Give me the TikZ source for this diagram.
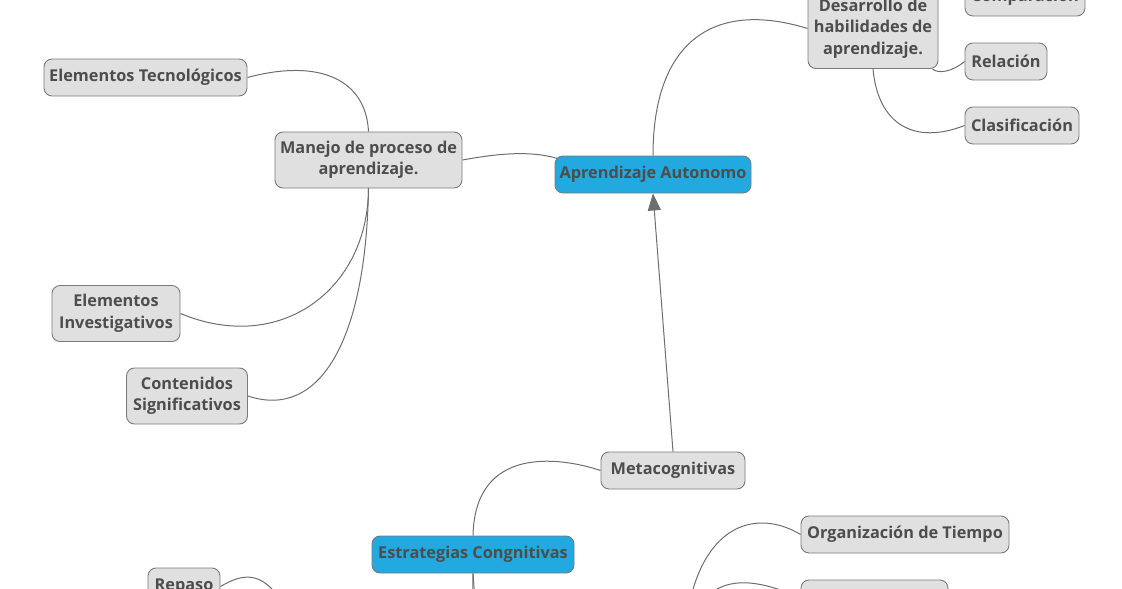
\documentclass[tikz,border=0pt]{standalone}
\usepackage{fontspec}
\setmainfont{Open Sans}
\usetikzlibrary{positioning,arrows.meta}
\definecolor{boxgray}{HTML}{E0E0E0}
\definecolor{edgegray}{HTML}{7A7A7A}
\definecolor{linegray}{HTML}{6E6E6E}
\definecolor{txtgray}{HTML}{4D4D4D}
\definecolor{mapblue}{HTML}{22A9E0}
\tikzset{idea/.style={draw=edgegray, fill=boxgray, rounded corners=8, line width=0.9pt, inner xsep=4pt, inner ysep=8pt, minimum height=37pt, align=center, text=txtgray, font=\fontsize{16.3}{21.5}\selectfont\bfseries}}
\tikzset{twoline/.style={idea, minimum height=56pt}}
\tikzset{central/.style={idea, fill=mapblue}}
\tikzset{link/.style={draw=linegray, line width=1pt}}
\tikzset{arr/.style={link, -{Triangle[width=13pt,length=17pt]}}}
\begin{document}
\begin{tikzpicture}[x=1pt, y=-1pt]
	\useasboundingbox (0,0) rectangle (1122,589);
	\clip (0,0) rectangle (1122,589);
	% central ideas
	\node[central, minimum width=196pt] (AA) at (653,174.5) {Aprendizaje Autonomo};
	\node[central, minimum width=202pt] (EC) at (473,554.5) {Estrategias Congnitivas};
	% upper branch
	\node[twoline, minimum width=187pt] (MP) at (368.5,160) {Manejo de proceso de\\aprendizaje.};
	\node[idea, minimum width=203pt] (ET) at (145.5,77.5) {Elementos Tecnológicos};
	\node[twoline, minimum width=128pt] (EI) at (116,313.5) {Elementos\\Investigativos};
	\node[twoline, minimum width=121pt] (CS) at (187,396) {Contenidos\\Significativos};
	\node[twoline, minimum width=130pt, minimum height=80pt] (DH) at (873,28.5) {Desarrollo de\\habilidades de\\aprendizaje.};
	\node[idea, minimum width=120pt] (CO) at (1025,-2.5) {Comparación};
	\node[idea, minimum width=82pt] (RE) at (1006,61.5) {Relación};
	\node[idea, minimum width=114pt] (CL) at (1022,125.5) {Clasificación};
	% lower branch
	\node[idea, minimum width=144pt] (MC) at (673,470.5) {Metacognitivas};
	\node[idea, minimum width=208pt] (OT) at (905,534.5) {Organización de Tiempo};
	\node[idea, minimum width=147pt] (B2) at (874.5,598.5) {};
	\node[idea, minimum width=72pt] (RP) at (184,586.5) {Repaso};
	% free ends below the page
	\coordinate (ha) at (472,640);
	\coordinate (hb) at (478,640);
	\coordinate (hc) at (688,610);
	\coordinate (hd) at (695,615);
	\coordinate (he) at (288,612);
	% connectors
	\draw[link] (AA.north) .. controls (653,40) and (715,0) .. (DH.west);
	\draw[link] (DH.south east) ++(-6,0) .. controls (938,74) and (952,72) .. (RE.west);
	\draw[link] (DH.south) .. controls (878,125) and (915,145) .. (CL.west);
	\draw[link] (MP.east) .. controls (495,154) and (530,150) .. ([shift={(3,3)}]AA.north west);
	\draw[link] (MP.north) .. controls (366,80) and (320,58) .. (ET.east);
	\draw[link] (MP.south) .. controls (368,290) and (280,355) .. (EI.east);
	\draw[link] (MP.south) .. controls (366,340) and (320,420) .. (CS.east);
	\draw[arr] (MC.north) -- (AA.south);
	\draw[link] (MC.west) .. controls (560,457) and (475,445) .. (EC.north);
	\draw[link] (EC.south) -- (ha);
	\draw[link] (EC.south) -- (hb);
	\draw[link] (hc) .. controls (705,520) and (760,510) .. (OT.west);
	\draw[link] (hd) .. controls (710,580) and (745,572) .. (B2.west);
	\draw[link] (RP.east) .. controls (245,572) and (265,570) .. (he);
\end{tikzpicture}
\end{document}
